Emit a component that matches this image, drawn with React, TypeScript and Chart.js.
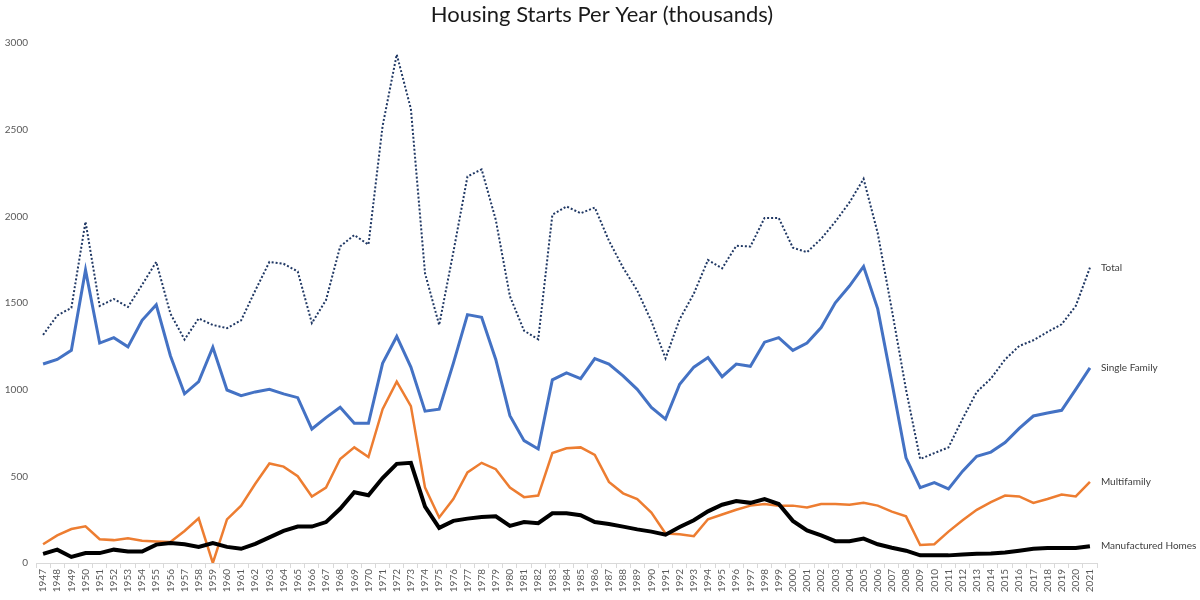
import React, { useEffect, useRef } from "react";
import { Chart, registerables } from "chart.js";

Chart.register(...registerables);

const years = [
  "1947","1948","1949","1950","1951","1952","1953","1954","1955","1956","1957","1958","1959","1960",
  "1961","1962","1963","1964","1965","1966","1967","1968","1969","1970","1971","1972","1973","1974",
  "1975","1976","1977","1978","1979","1980","1981","1982","1983","1984","1985","1986","1987","1988",
  "1989","1990","1991","1992","1993","1994","1995","1996","1997","1998","1999","2000","2001","2002",
  "2003","2004","2005","2006","2007","2008","2009","2010","2011","2012","2013","2014","2015","2016",
  "2017","2018","2019","2020","2021",
];

const total = [
  1316,1428,1472,1969,1483,1523,1477,1605,1737,1439,1289,1411,1373,1355,1400,1572,1737,1726,1682,1384,1517,1826,1892,1837,2521,2934,
  2620,1671,1373,1793,2230,2271,1980,1539,1340,1291,2009,2057,2018,2051,1859,1704,1572,1395,1181,1406,1554,1748,1700,1830,1826,1991,
  1991,1819,1793,1870,1969,2080,2216,1903,1460,1000,600,634,667,832,987,1064,1174,1252,1285,1333,1377,1483,1704,
];

const singleFamily = [
  1148,1174,1227,1691,1269,1300,1247,1400,1490,1196,976,1046,1245,998,965,987,1002,976,954,773,839,898,806,806,1152,1307,
  1130,876,887,1152,1433,1417,1174,850,706,658,1057,1097,1064,1179,1148,1079,1002,898,830,1031,1130,1185,1075,1148,1135,1274,
  1300,1227,1269,1358,1501,1598,1711,1466,1042,607,435,464,428,530,616,640,695,777,848,865,881,1002,1126,
];

const multifamily = [
  108,159,196,212,137,132,143,128,124,121,185,258,0,252,331,457,574,556,501,384,435,600,667,611,887,1046,
  905,435,263,369,523,578,541,435,380,389,634,662,667,623,468,402,369,291,170,166,155,252,280,307,331,340,
  331,331,320,340,340,336,347,331,296,269,104,108,181,247,307,351,389,384,347,369,395,384,468,
];

const manufactured = [
  53,77,35,57,57,77,66,66,106,115,108,93,115,93,82,110,148,185,210,210,236,313,408,391,490,572,
  578,325,203,243,256,265,269,214,236,230,287,287,276,236,225,210,194,181,163,208,247,298,336,358,347,369,
  340,243,188,159,126,126,141,108,88,71,44,44,44,49,53,55,60,71,82,86,86,86,97,
];

const yTicks = [0, 500, 1000, 1500, 2000, 2500, 3000];

const titleText = "Housing Starts Per Year (thousands)";

export default function App() {
  const ref = useRef<HTMLCanvasElement | null>(null);

  useEffect(() => {
    if (!ref.current) return;
    const endLabels = {
      id: "endLabels",
      afterDatasetsDraw(chart: any) {
        const ctx = chart.ctx;
        ctx.save();
        ctx.font = "10px Lato";
        ctx.fillStyle = "#404040";
        ctx.textAlign = "left";
        ctx.textBaseline = "middle";
        chart.data.datasets.forEach((ds: any, i: number) => {
          const meta = chart.getDatasetMeta(i);
          const pt = meta.data[meta.data.length - 1];
          if (pt) ctx.fillText(ds.label, pt.x + 11, pt.y);
        });
        ctx.restore();
      },
      afterDraw(chart: any) {
        const ctx = chart.ctx;
        ctx.save();
        ctx.font = "22px Lato";
        ctx.fillStyle = "#1a1a1a";
        ctx.textAlign = "center";
        ctx.textBaseline = "middle";
        ctx.fillText(titleText, 602, 15);
        ctx.restore();
      },
    };

    const chart = new Chart(ref.current, {
      type: "line",
      data: {
        labels: years,
        datasets: [
          {
            label: "Manufactured Homes",
            data: manufactured,
            borderColor: "#000000",
            borderWidth: 4,
            pointRadius: 0,
            tension: 0,
          },
          {
            label: "Multifamily",
            data: multifamily,
            borderColor: "#ED7D31",
            borderWidth: 2.5,
            pointRadius: 0,
            tension: 0,
          },
          {
            label: "Single Family",
            data: singleFamily,
            borderColor: "#4472C4",
            borderWidth: 3,
            pointRadius: 0,
            tension: 0,
          },
          {
            label: "Total",
            data: total,
            borderColor: "#203864",
            borderWidth: 2,
            borderDash: [2, 2],
            pointRadius: 0,
            tension: 0,
          },
        ],
      },
      options: {
        animation: false,
        responsive: false,
        maintainAspectRatio: false,
        layout: { padding: { top: 43, right: 103, left: 0, bottom: 0 } },
        plugins: {
          legend: { display: false },
          title: { display: false },
          tooltip: { enabled: false },
        },
        scales: {
          x: {
            offset: true,
            grid: {
              display: true,
              offset: true,
              drawOnChartArea: false,
              drawTicks: true,
              tickLength: 5,
              color: "#d9d9d9",
            },
            border: { display: true, color: "#d9d9d9" },
            ticks: {
              autoSkip: false,
              minRotation: 90,
              maxRotation: 90,
              padding: 1,
              color: "#595959",
              font: { family: "Lato", size: 10 },
            },
            afterFit(scale: any) {
              scale.height = 37;
            },
          },
          y: {
            min: 0,
            max: 3000,
            afterBuildTicks(scale: any) {
              scale.ticks = yTicks.map((v) => ({ value: v }));
            },
            grid: { display: false, drawTicks: false },
            border: { display: false },
            ticks: {
              padding: 8,
              color: "#595959",
              font: { family: "Lato", size: 10 },
              callback: (v: any) => String(v),
            },
            afterFit(scale: any) {
              scale.width = 36;
            },
          },
        },
      },
      plugins: [endLabels],
    });
    return () => chart.destroy();
  }, []);

  return (
    <div style={{ position: "absolute", left: 0, top: 0, width: 1200, height: 600, background: "#fff" }}>
      <canvas ref={ref} width={1200} height={600} style={{ width: 1200, height: 600 }} />
    </div>
  );
}
